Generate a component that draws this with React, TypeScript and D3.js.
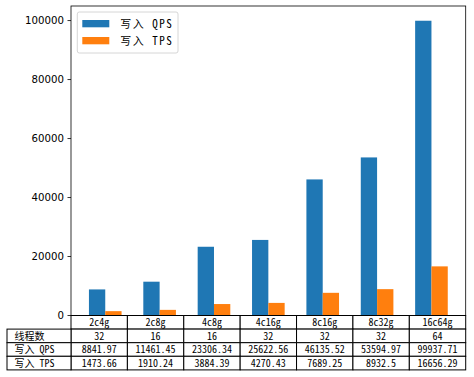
import React from "react";
import * as d3 from "d3";

const categories = ["2c4g", "2c8g", "4c8g", "4c16g", "8c16g", "8c32g", "16c64g"];
const threads = ["32", "16", "16", "32", "32", "32", "64"];
const qps = [8841.97, 11461.45, 23306.34, 25622.56, 46135.52, 53594.97, 99937.71];
const tps = [1473.66, 1910.24, 3884.39, 4270.43, 7689.25, 8932.5, 16656.29];
const qpsLabels = ["8841.97", "11461.45", "23306.34", "25622.56", "46135.52", "53594.97", "99937.71"];
const tpsLabels = ["1473.66", "1910.24", "3884.39", "4270.43", "7689.25", "8932.5", "16656.29"];
const rowLabels = ["线程数", "写入 QPS", "写入 TPS"];
const seriesNames = ["写入 QPS", "写入 TPS"];
const yTicks = [0, 20000, 40000, 60000, 80000, 100000];

const W = 474;
const H = 377;
const left = 71;
const right = 465.7;
const top = 6;
const bottom = 315.5;
const blue = "#1f77b4";
const orange = "#ff7f0e";
const barW = 0.3;
const cjkFont = "'Noto Sans Mono CJK SC', 'Noto Sans CJK SC', 'DejaVu Sans Mono', monospace";

export default function App() {
  const idx = categories.map((_, i) => i);
  const x = d3
    .scaleLinear()
    .domain([-barW / 2 - 0.33, categories.length - 1 + barW + barW / 2 + 0.33])
    .range([left, right]);
  const y = d3.scaleLinear().domain([0, d3.max(qps)! * 1.05]).range([bottom, top]);

  const colW = (right - left) / categories.length;
  const rowH = 13.6;
  const labelLeft = 7;
  const rows = [categories, threads, qpsLabels, tpsLabels];

  return (
    <svg
      width={W}
      height={H}
      style={{ position: "absolute", left: 0, top: 0, background: "#fff" }}
    >
      <rect x={0} y={0} width={W} height={H} fill="#fff" />
      {idx.map((i) => (
        <rect
          key={"q" + i}
          x={x(i - barW / 2)}
          width={x(barW) - x(0)}
          y={y(qps[i])}
          height={y(0) - y(qps[i])}
          fill={blue}
        />
      ))}
      {idx.map((i) => (
        <rect
          key={"t" + i}
          x={x(i + barW / 2)}
          width={x(barW) - x(0)}
          y={y(tps[i])}
          height={y(0) - y(tps[i])}
          fill={orange}
        />
      ))}
      {yTicks.map((t) => (
        <g key={t}>
          <line x1={left - 3.5} x2={left} y1={y(t)} y2={y(t)} stroke="#000" strokeWidth={0.8} />
          <text
            x={left - 7}
            y={y(t)}
            dy="0.35em"
            textAnchor="end"
            fontSize={10.2}
            fontFamily="'DejaVu Sans', sans-serif"
            fill="#000"
          >
            {t}
          </text>
        </g>
      ))}
      <rect
        x={left}
        y={top}
        width={right - left}
        height={bottom - top}
        fill="none"
        stroke="#000"
        strokeWidth={0.8}
      />
      <rect x={77.3} y={12} width={100.7} height={41} rx={2} fill="#fff" fillOpacity={0.8} stroke="#ccc" strokeWidth={0.8} />
      {seriesNames.map((s, k) => (
        <g key={s}>
          <rect x={82.3} y={20 + k * 17} width={27} height={7.3} fill={k === 0 ? blue : orange} />
          <text
            x={120.3}
            y={23.8 + k * 17}
            dy="0.35em"
            fontSize={11}
            fontFamily={cjkFont}
            textLength={51.4}
            lengthAdjust="spacing"
            fill="#000"
          >
            {s}
          </text>
        </g>
      ))}
      {rows.map((row, r) => (
        <g key={"r" + r}>
          {row.map((v, c) => (
            <g key={c}>
              <rect
                x={left + c * colW}
                y={bottom + r * rowH}
                width={colW}
                height={rowH}
                fill="#fff"
                stroke="#000"
                strokeWidth={1}
              />
              <text
                x={left + c * colW + colW / 2}
                y={bottom + r * rowH + rowH / 2}
                dy="0.36em"
                textAnchor="middle"
                fontSize={10}
                fontFamily={cjkFont}
                fill="#000"
              >
                {v}
              </text>
            </g>
          ))}
          {r > 0 && (
            <g>
              <rect
                x={labelLeft}
                y={bottom + r * rowH}
                width={left - labelLeft}
                height={rowH}
                fill="#fff"
                stroke="#000"
                strokeWidth={1}
              />
              <text
                x={labelLeft + 7.5}
                y={bottom + r * rowH + rowH / 2}
                dy="0.36em"
                fontSize={10}
                fontFamily={cjkFont}
                fill="#000"
              >
                {rowLabels[r - 1]}
              </text>
            </g>
          )}
        </g>
      ))}
    </svg>
  );
}
